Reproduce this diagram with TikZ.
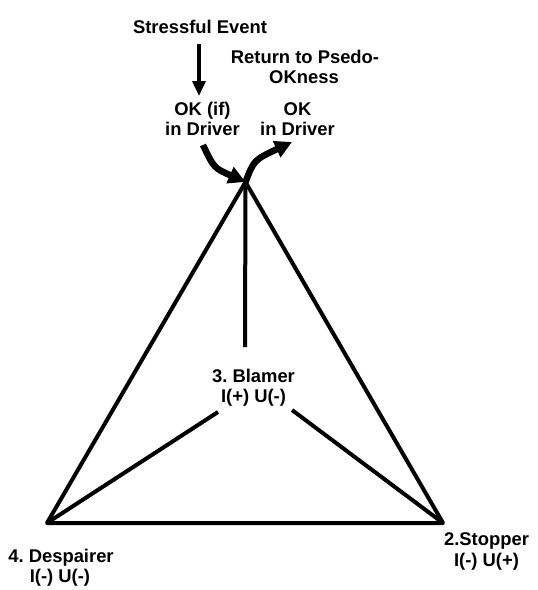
\documentclass[tikz,border=0pt]{standalone}
\usepackage{fontspec}
\setmainfont{Liberation Sans}
\usetikzlibrary{arrows.meta}
\begin{document}
\frenchspacing
\begin{tikzpicture}[x=1pt,y=-1pt,
  lbl/.style={font=\fontsize{18.4}{21}\selectfont\bfseries\frenchspacing, inner sep=0pt, anchor=base},
  edge/.style={line width=4pt, line cap=round, line join=round},
  bigarrow/.style={line width=6.5pt, -{Triangle[length=17pt,width=17pt]}}]
\useasboundingbox (0,0) rectangle (538,590);
% corners
\coordinate (apex) at (245.5,182);
\coordinate (bl) at (47,523);
\coordinate (br) at (443,523);
\coordinate (vend) at (245,347);
\coordinate (lend) at (218,412);
\coordinate (rend) at (292,410);
% triangle
\draw[edge] (apex) -- (bl) -- (br) -- cycle;
\draw[edge, line cap=butt] (apex) -- (vend);
\draw[edge, line cap=butt] (bl) -- (lend);
\draw[edge, line cap=butt] (br) -- (rend);
% labels
\node[lbl] (se) at (200,33) {Stressful Event};
\node[lbl] (ret1) at (305,63) {Return to Psedo-};
\node[lbl] (ret2) at (304,83) {OKness};
\node[lbl] (okif1) at (202.5,115) {OK (if)};
\node[lbl] (okif2) at (202.5,135) {in Driver};
\node[lbl] (ok1) at (297.5,115) {OK};
\node[lbl] (ok2) at (297.5,135) {in Driver};
\node[lbl] (bl1) at (253.5,382) {3. Blamer};
\node[lbl] (bl2) at (253.5,402) {I(+) U(-)};
\node[lbl] (de1) at (61,562) {4. Despairer};
\node[lbl] (de2) at (60,582) {I(-) U(-)};
\node[lbl] (st1) at (486.5,545) {2.Stopper};
\node[lbl] (st2) at (486.5,566) {I(-) U(+)};
% arrows
\coordinate (a1s) at (199,44);
\coordinate (a1e) at (199,96);
\draw[line width=3.5pt, -{Triangle[length=15pt,width=13pt]}] (a1s) -- (a1e);
\coordinate (l1) at (203,145);
\draw[bigarrow] (l1) .. controls (214,168) .. (apex);
\coordinate (r1) at (292,142);
\draw[bigarrow] (apex) .. controls (254,160) .. (r1);
\end{tikzpicture}
\end{document}
